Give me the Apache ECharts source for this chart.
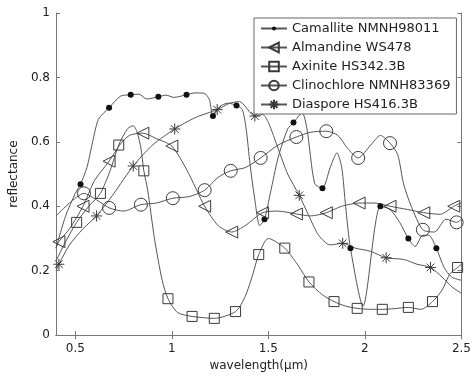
<!DOCTYPE html>
<html>
<head>
<meta charset="utf-8">
<script src="https://cdn.jsdelivr.net/npm/echarts@6/dist/echarts.min.js"></script>
<style>
  html, body { margin: 0; padding: 0; background: #fff; }
  #chart { width: 474px; height: 377px; }
</style>
</head>
<body>
<div id="chart"></div>
<script>
// spectra (wavelength in µm, reflectance 0..1)
const camalliteX = [0.40, 0.45, 0.50, 0.527, 0.56, 0.59, 0.62, 0.675, 0.735, 0.787, 0.83, 0.87, 0.93, 0.97, 1.01, 1.076, 1.12, 1.17, 1.195, 1.213, 1.25, 1.29, 1.335, 1.365, 1.385, 1.405, 1.43, 1.455, 1.48, 1.51, 1.55, 1.60, 1.63, 1.675, 1.70, 1.74, 1.78, 1.82, 1.855, 1.88, 1.90, 1.925, 1.99, 2.08, 2.13, 2.18, 2.225, 2.26, 2.30, 2.33, 2.37, 2.41, 2.45, 2.50]
const camalliteY = [0.27, 0.37, 0.44, 0.468, 0.52, 0.60, 0.67, 0.706, 0.742, 0.746, 0.748, 0.733, 0.74, 0.745, 0.738, 0.746, 0.752, 0.75, 0.73, 0.68, 0.71, 0.72, 0.713, 0.70, 0.64, 0.53, 0.42, 0.34, 0.36, 0.44, 0.55, 0.64, 0.66, 0.69, 0.64, 0.47, 0.456, 0.52, 0.566, 0.52, 0.40, 0.27, 0.09, 0.40, 0.39, 0.35, 0.30, 0.275, 0.31, 0.31, 0.27, 0.21, 0.18, 0.17]
const camalliteMarks = [0.527, 0.675, 0.787, 0.93, 1.076, 1.213, 1.335, 1.48, 1.63, 1.78, 1.925, 2.08, 2.225, 2.37]

const almandineX = [0.40, 0.415, 0.47, 0.54, 0.60, 0.675, 0.73, 0.78, 0.85, 0.92, 1.0, 1.08, 1.17, 1.24, 1.31, 1.38, 1.47, 1.55, 1.645, 1.72, 1.80, 1.88, 1.97, 2.05, 2.13, 2.22, 2.305, 2.39, 2.46, 2.50]
const almandineY = [0.27, 0.29, 0.33, 0.40, 0.48, 0.54, 0.59, 0.62, 0.627, 0.61, 0.587, 0.51, 0.40, 0.34, 0.32, 0.34, 0.38, 0.385, 0.376, 0.37, 0.38, 0.40, 0.41, 0.41, 0.40, 0.39, 0.38, 0.375, 0.40, 0.41]
const almandineMarks = [0.415, 0.54, 0.675, 0.85, 1.0, 1.17, 1.31, 1.47, 1.645, 1.80, 1.97, 2.13, 2.305, 2.46]

const axiniteX = [0.40, 0.45, 0.507, 0.57, 0.63, 0.68, 0.725, 0.77, 0.80, 0.82, 0.84, 0.855, 0.875, 0.91, 0.95, 0.98, 1.03, 1.105, 1.22, 1.33, 1.38, 1.42, 1.45, 1.50, 1.585, 1.65, 1.71, 1.78, 1.84, 1.90, 1.96, 2.03, 2.09, 2.15, 2.225, 2.29, 2.35, 2.40, 2.44, 2.48, 2.50]
const axiniteY = [0.23, 0.29, 0.35, 0.40, 0.44, 0.51, 0.59, 0.64, 0.65, 0.63, 0.58, 0.51, 0.45, 0.30, 0.17, 0.113, 0.07, 0.058, 0.052, 0.073, 0.12, 0.19, 0.25, 0.30, 0.27, 0.22, 0.165, 0.125, 0.104, 0.09, 0.083, 0.08, 0.08, 0.082, 0.086, 0.08, 0.104, 0.14, 0.19, 0.21, 0.22]
const axiniteMarks = [0.507, 0.63, 0.725, 0.855, 0.98, 1.105, 1.22, 1.33, 1.45, 1.585, 1.71, 1.84, 1.96, 2.09, 2.225, 2.35, 2.48]

const clinochloreX = [0.40, 0.47, 0.545, 0.61, 0.675, 0.75, 0.84, 0.92, 1.005, 1.09, 1.17, 1.24, 1.305, 1.38, 1.46, 1.55, 1.645, 1.72, 1.80, 1.86, 1.91, 1.965, 2.03, 2.08, 2.13, 2.17, 2.20, 2.24, 2.30, 2.36, 2.42, 2.475, 2.50]
const clinochloreY = [0.37, 0.41, 0.44, 0.42, 0.395, 0.385, 0.405, 0.41, 0.425, 0.43, 0.45, 0.49, 0.51, 0.52, 0.55, 0.59, 0.615, 0.63, 0.633, 0.62, 0.58, 0.55, 0.59, 0.62, 0.596, 0.56, 0.47, 0.40, 0.327, 0.32, 0.36, 0.35, 0.36]
const clinochloreMarks = [0.545, 0.675, 0.84, 1.005, 1.17, 1.305, 1.46, 1.645, 1.80, 1.965, 2.13, 2.30, 2.475]

const diasporeX = [0.40, 0.415, 0.47, 0.54, 0.61, 0.70, 0.80, 0.90, 1.015, 1.12, 1.235, 1.30, 1.35, 1.43, 1.47, 1.50, 1.55, 1.60, 1.66, 1.71, 1.76, 1.82, 1.885, 1.95, 2.03, 2.11, 2.20, 2.27, 2.34, 2.40, 2.45, 2.50]
const diasporeY = [0.20, 0.22, 0.28, 0.33, 0.37, 0.44, 0.525, 0.59, 0.64, 0.675, 0.70, 0.72, 0.725, 0.68, 0.685, 0.66, 0.58, 0.50, 0.434, 0.37, 0.31, 0.28, 0.285, 0.27, 0.26, 0.24, 0.235, 0.22, 0.21, 0.18, 0.15, 0.13]
const diasporeMarks = [0.415, 0.61, 0.80, 1.015, 1.235, 1.43, 1.66, 1.885, 2.11, 2.34]

const xTicks = [0.5, 1, 1.5, 2, 2.5]

const lineColor = '#555'
const markColor = '#3a3a3a'
const font = 'DejaVu Sans'

function build(xs, ys, marks) {
  return xs.map((x, i) => marks.includes(x) ? [x, ys[i]] : { value: [x, ys[i]], symbol: 'none' })
}

function spectrum(name, xs, ys, marks, symbol, size, filled) {
  return {
    name: name,
    type: 'line',
    smooth: 0.25,
    symbol: symbol,
    symbolSize: size,
    showSymbol: true,
    data: build(xs, ys, marks),
    lineStyle: { color: lineColor, width: 1 },
    itemStyle: filled
      ? { color: '#111', borderWidth: 0 }
      : { color: 'rgba(255,255,255,0)', borderColor: markColor, borderWidth: 1 },
    emphasis: { disabled: true },
  }
}

// small dot padded inside a bigger box so the legend keeps it small
const dot = 'path://M0 0L0 0M14 14L14 14M10 7A3 3 0 1 0 4 7A3 3 0 1 0 10 7Z'
const asterisk = 'path://M5 0L5 10M0 5L10 5M1.5 1.5L8.5 8.5M8.5 1.5L1.5 8.5'
const leftTri = 'path://M0 5L10 0L10 10Z'

const chart = echarts.init(document.getElementById('chart'), null, { renderer: 'canvas' })

const axisLine = { show: true, lineStyle: { color: '#777', width: 1 } }
const tick = { show: true, inside: true, length: 4, lineStyle: { color: '#777' } }

chart.setOption({
  animation: false,
  grid: { left: 49, right: 12, top: 13, bottom: 37 },
  legend: {
    orient: 'vertical',
    left: 254,
    top: 18,
    itemWidth: 26,
    itemHeight: 12,
    itemGap: 6,
    padding: [4, 6, 3, 6],
    backgroundColor: '#fff',
    borderColor: '#666',
    borderWidth: 1,
    textStyle: { fontFamily: font, fontSize: 13, color: '#222' },
  },
  xAxis: [
    {
      type: 'value',
      min: 0.4,
      max: 2.5,
      name: 'wavelength(μm)',
      nameLocation: 'middle',
      nameGap: 24,
      nameTextStyle: { fontFamily: font, fontSize: 12, color: '#222' },
      axisLine: axisLine,
      axisTick: Object.assign({ customValues: xTicks }, tick),
      axisLabel: { customValues: xTicks, fontFamily: font, fontSize: 12, color: '#222', margin: 8 },
      splitLine: { show: false },
    },
    {
      type: 'value',
      position: 'top',
      min: 0.4,
      max: 2.5,
      axisLine: axisLine,
      axisTick: Object.assign({ customValues: xTicks }, tick),
      axisLabel: { show: false },
      splitLine: { show: false },
    },
  ],
  yAxis: [
    {
      type: 'value',
      min: 0,
      max: 1,
      interval: 0.2,
      name: 'reflectance',
      nameLocation: 'middle',
      nameGap: 33,
      nameTextStyle: { fontFamily: font, fontSize: 12, color: '#222' },
      axisLine: axisLine,
      axisTick: tick,
      axisLabel: { fontFamily: font, fontSize: 12, color: '#222', margin: 6 },
      splitLine: { show: false },
    },
    {
      type: 'value',
      position: 'right',
      min: 0,
      max: 1,
      interval: 0.2,
      axisLine: axisLine,
      axisTick: tick,
      axisLabel: { show: false },
      splitLine: { show: false },
    },
  ],
  series: [
    spectrum('Camallite NMNH98011', camalliteX, camalliteY, camalliteMarks, dot, 14, true),
    spectrum('Almandine WS478', almandineX, almandineY, almandineMarks, leftTri, [12, 12], false),
    spectrum('Axinite HS342.3B', axiniteX, axiniteY, axiniteMarks, 'rect', 10, false),
    spectrum('Clinochlore NMNH83369', clinochloreX, clinochloreY, clinochloreMarks, 'circle', 13, false),
    spectrum('Diaspore HS416.3B', diasporeX, diasporeY, diasporeMarks, asterisk, 11, false),
  ],
})
</script>
</body>
</html>
